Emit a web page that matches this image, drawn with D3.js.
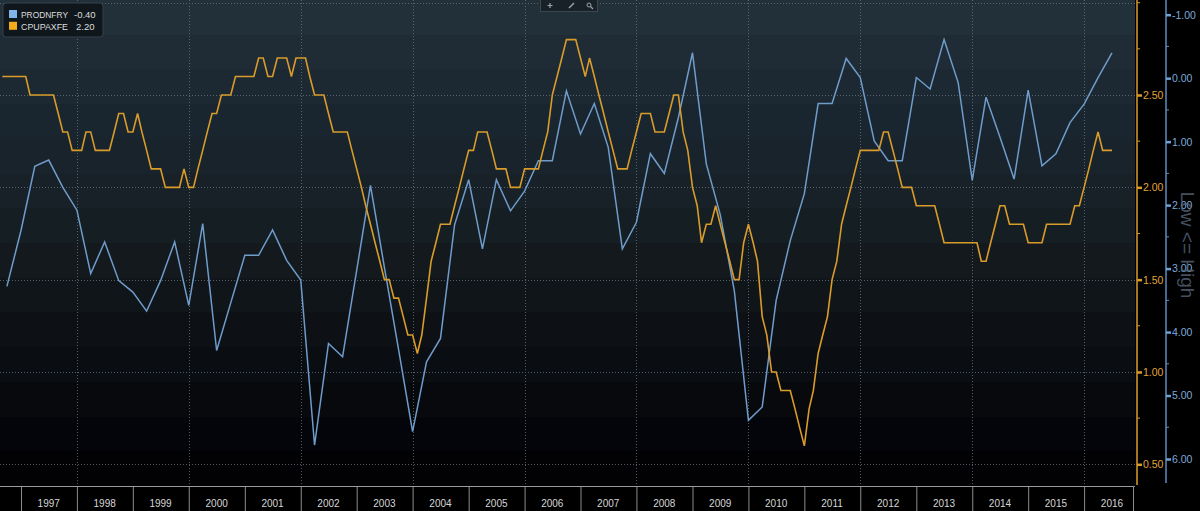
<html>
<head>
<title>PRODNFRY vs CPUPAXFE</title>
<script src="https://cdn.jsdelivr.net/npm/d3@7"></script>
<style>
  body { margin: 0; background: #000; }
  text { font-family: "Liberation Sans", Arial, sans-serif; }
</style>
</head>
<body>
<script>
// chart size
const w = 1200, h = 511;
const plotRight = 1135, plotBottom = 486;

// PRODNFRY, quarterly, first point Q4 1996 (plotted on the inverted right axis)
const prodStart = new Date(1996, 9, 1);
const prodValues = [
  3.28,
  2.40, 1.39, 1.29, 1.72,   // 1997
  2.08, 3.08, 2.58, 3.19,   // 1998
  3.37, 3.67, 3.19, 2.58,   // 1999
  3.58, 2.29, 4.29, 3.54,   // 2000
  2.79, 2.79, 2.39, 2.87,   // 2001
  3.18, 5.78, 4.18, 4.39,   // 2002
  3.03, 1.69, 2.98, 4.27,   // 2003
  5.57, 4.47, 4.10, 2.31,   // 2004
  1.60, 2.69, 1.60, 2.09,   // 2005
  1.78, 1.30, 1.30, 0.20,   // 2006
  0.88, 0.40, 1.09, 2.69,   // 2007
  2.27, 1.19, 1.50, 0.62,   // 2008
  -0.40, 1.35, 2.15, 3.35,  // 2009
  5.39, 5.18, 3.50, 2.56,   // 2010
  1.82, 0.40, 0.40, -0.31,  // 2011
  -0.01, 0.99, 1.30, 1.30,  // 2012
  -0.01, 0.17, -0.61, 0.07, // 2013
  1.61, 0.30, 0.93, 1.59,   // 2014
  0.19, 1.38, 1.19, 0.70,   // 2015
  0.41, -0.01, -0.40        // 2016
];

// CPUPAXFE, monthly, first point Sep 1996
const cpiStart = new Date(1996, 8, 1);
const cpiValues = [
  2.6, 2.6, 2.6, 2.6,
  2.6, 2.6, 2.5, 2.5, 2.5, 2.5, 2.5, 2.5, 2.4, 2.3, 2.3, 2.2, // 1997
  2.2, 2.2, 2.3, 2.3, 2.2, 2.2, 2.2, 2.2, 2.3, 2.4, 2.4, 2.3, // 1998
  2.3, 2.4, 2.3, 2.2, 2.1, 2.1, 2.1, 2.0, 2.0, 2.0, 2.0, 2.1, // 1999
  2.0, 2.0, 2.1, 2.2, 2.3, 2.4, 2.4, 2.5, 2.5, 2.5, 2.6, 2.6, // 2000
  2.6, 2.6, 2.6, 2.7, 2.7, 2.6, 2.6, 2.7, 2.7, 2.7, 2.6, 2.7, // 2001
  2.7, 2.7, 2.6, 2.5, 2.5, 2.5, 2.4, 2.3, 2.3, 2.3, 2.3, 2.2, // 2002
  2.1, 2.0, 1.9, 1.8, 1.7, 1.6, 1.5, 1.5, 1.4, 1.4, 1.3, 1.2, // 2003
  1.2, 1.1, 1.2, 1.4, 1.6, 1.7, 1.8, 1.8, 1.8, 1.9, 2.0, 2.1, // 2004
  2.2, 2.2, 2.3, 2.3, 2.3, 2.2, 2.1, 2.1, 2.1, 2.0, 2.0, 2.0, // 2005
  2.1, 2.1, 2.1, 2.1, 2.2, 2.3, 2.5, 2.6, 2.7, 2.8, 2.8, 2.8, // 2006
  2.7, 2.6, 2.7, 2.6, 2.5, 2.4, 2.3, 2.2, 2.1, 2.1, 2.1, 2.2, // 2007
  2.3, 2.4, 2.4, 2.4, 2.3, 2.3, 2.3, 2.4, 2.5, 2.5, 2.3, 2.2, // 2008
  2.0, 1.9, 1.7, 1.8, 1.8, 1.9, 1.8, 1.7, 1.6, 1.5, 1.5, 1.7, // 2009
  1.8, 1.7, 1.6, 1.3, 1.2, 1.0, 1.0, 0.9, 0.9, 0.9, 0.8, 0.7, // 2010
  0.6, 0.8, 0.9, 1.1, 1.2, 1.3, 1.5, 1.6, 1.8, 1.9, 2.0, 2.1, // 2011
  2.2, 2.2, 2.2, 2.2, 2.2, 2.3, 2.3, 2.2, 2.1, 2.0, 2.0, 2.0, // 2012
  1.9, 1.9, 1.9, 1.9, 1.9, 1.8, 1.7, 1.7, 1.7, 1.7, 1.7, 1.7, // 2013
  1.7, 1.7, 1.6, 1.6, 1.7, 1.8, 1.9, 1.9, 1.8, 1.8, 1.8, 1.8, // 2014
  1.7, 1.7, 1.7, 1.7, 1.8, 1.8, 1.8, 1.8, 1.8, 1.8, 1.9, 1.9, // 2015
  2.0, 2.1, 2.2, 2.3, 2.2, 2.2, 2.2                           // 2016
];

// tick labels
const years = [1997, 1998, 1999, 2000, 2001, 2002, 2003, 2004, 2005, 2006,
               2007, 2008, 2009, 2010, 2011, 2012, 2013, 2014, 2015, 2016];
const cpiTicks = [0.5, 1.0, 1.5, 2.0, 2.5];
const cpiMinor = [0.75, 1.25, 1.75, 2.25, 2.75, 3.0];
const prodTicks = [-1, 0, 1, 2, 3, 4, 5, 6];
const prodMinor = [-0.5, 0.5, 1.5, 2.5, 3.5, 4.5, 5.5];
const seriesNames = ["PRODNFRY", "CPUPAXFE"];

const blue = "#6f9ccb", orange = "#d99c2b";

const prod = prodValues.map(function(v, i) {
  return { date: d3.timeMonth.offset(prodStart, i * 3), value: v };
});
const cpi = cpiValues.map(function(v, i) {
  return { date: d3.timeMonth.offset(cpiStart, i), value: v };
});

// scales
const xScale = d3.scaleTime()
  .domain([new Date(1997, 0, 1), new Date(2016, 0, 1)])
  .range([21, 1084.1]);
const yCpi = d3.scaleLinear().domain([0.5, 2.5]).range([464.3, 95]);
const yProd = d3.scaleLinear().domain([-1, 6]).range([14.7, 459]);

const svg = d3.select("body").append("svg")
  .attr("width", w)
  .attr("height", h);

svg.append("rect").attr("width", w).attr("height", h).attr("fill", "#000");

// banded background
const bands = ["#22303a", "#1f2c36", "#1c2832", "#1a262f", "#18232b", "#172127",
               "#151e22", "#13191d", "#101519", "#0d1115", "#0a0d11", "#07090d",
               "#04050a", "#020205"];
const defs = svg.append("defs");
const grad = defs.append("linearGradient")
  .attr("id", "bg").attr("x1", 0).attr("y1", 0).attr("x2", 0).attr("y2", 1);
bands.forEach(function(c, i) {
  grad.append("stop").attr("offset", i / bands.length).attr("stop-color", c);
  grad.append("stop").attr("offset", (i + 1) / bands.length).attr("stop-color", c);
});
defs.append("clipPath").attr("id", "plotclip")
  .append("rect").attr("width", plotRight).attr("height", plotBottom);

svg.append("rect")
  .attr("width", plotRight).attr("height", plotBottom)
  .attr("fill", "url(#bg)");

// grid
const grid = svg.append("g").attr("stroke", "#6c7883").attr("stroke-width", 1)
  .attr("stroke-dasharray", "1,2").attr("opacity", 0.75);
grid.selectAll(".hg").data(cpiTicks.concat([3.0])).enter().append("line")
  .attr("x1", 0).attr("x2", plotRight)
  .attr("y1", function(d) { return Math.round(yCpi(d)) + 0.5; })
  .attr("y2", function(d) { return Math.round(yCpi(d)) + 0.5; });
grid.selectAll(".vg").data(years.filter(function(y) { return y % 2 === 0; })).enter().append("line")
  .attr("y1", 0).attr("y2", plotBottom)
  .attr("x1", function(d) { return Math.round(xScale(new Date(d, 0, 1))) + 0.5; })
  .attr("x2", function(d) { return Math.round(xScale(new Date(d, 0, 1))) + 0.5; });

// lines
const plot = svg.append("g").attr("clip-path", "url(#plotclip)");

const cpiLine = d3.line()
  .x(function(d) { return xScale(d.date); })
  .y(function(d) { return yCpi(d.value); });
const prodLine = d3.line()
  .x(function(d) { return xScale(d.date); })
  .y(function(d) { return yProd(d.value); });

plot.append("path").datum(prod)
  .attr("fill", "none").attr("stroke", blue).attr("stroke-width", 1.5)
  .attr("d", prodLine);
plot.append("path").datum(cpi)
  .attr("fill", "none").attr("stroke", orange).attr("stroke-width", 1.6)
  .attr("d", cpiLine);

// orange axis
const cpiAxisX = 1137;
svg.append("line").attr("x1", cpiAxisX).attr("x2", cpiAxisX)
  .attr("y1", 0).attr("y2", 485).attr("stroke", orange).attr("stroke-width", 1.5);
const cpiAxis = svg.append("g").attr("transform", "translate(" + cpiAxisX + ",0)")
  .call(d3.axisRight(yCpi).tickValues(cpiTicks).tickSize(5).tickSizeOuter(0)
    .tickFormat(function(d) { return d.toFixed(2); }));
cpiAxis.select(".domain").remove();
cpiAxis.selectAll("line").attr("stroke", orange).attr("stroke-width", 2.5);
cpiAxis.selectAll("text").attr("fill", "#e0a33a").attr("font-size", "10.5px")
  .attr("x", 6).attr("font-family", "Liberation Sans, Arial, sans-serif");
svg.append("g").selectAll("line").data(cpiMinor).enter().append("line")
  .attr("x1", cpiAxisX).attr("x2", cpiAxisX + 3)
  .attr("y1", function(d) { return yCpi(d); }).attr("y2", function(d) { return yCpi(d); })
  .attr("stroke", orange).attr("stroke-width", 1);

// blue axis
const prodAxisX = 1166;
svg.append("line").attr("x1", prodAxisX).attr("x2", prodAxisX)
  .attr("y1", 0).attr("y2", 483).attr("stroke", "#5d8dc0").attr("stroke-width", 1.5);
const prodAxis = svg.append("g").attr("transform", "translate(" + prodAxisX + ",0)")
  .call(d3.axisRight(yProd).tickValues(prodTicks).tickSize(5).tickSizeOuter(0)
    .tickFormat(function(d) { return d.toFixed(2); }));
prodAxis.select(".domain").remove();
prodAxis.selectAll("line").attr("stroke", "#6f9fd3").attr("stroke-width", 2.5);
prodAxis.selectAll("text").attr("fill", "#7ea9d8").attr("font-size", "10.5px")
  .attr("x", 6).attr("font-family", "Liberation Sans, Arial, sans-serif");
svg.append("g").selectAll("line").data(prodMinor).enter().append("line")
  .attr("x1", prodAxisX).attr("x2", prodAxisX + 3)
  .attr("y1", function(d) { return yProd(d); }).attr("y2", function(d) { return yProd(d); })
  .attr("stroke", "#5d8dc0").attr("stroke-width", 1);

// inverted axis note
svg.append("text")
  .attr("transform", "translate(1181,245) rotate(90)")
  .attr("text-anchor", "middle")
  .attr("font-size", "19px")
  .attr("fill", "#55667a")
  .attr("opacity", 0.8)
  .text("Low <= High");

// bottom time axis
const xAxis = svg.append("g").attr("transform", "translate(0," + plotBottom + ")")
  .call(d3.axisBottom(xScale)
    .tickValues(years.map(function(y) { return new Date(y, 0, 1); }))
    .tickSize(25).tickSizeOuter(0).tickFormat(""));
xAxis.select(".domain").remove();
xAxis.selectAll("line").attr("stroke", "#8c8c8c");
svg.append("line").attr("x1", 0).attr("x2", plotRight)
  .attr("y1", plotBottom + 0.5).attr("y2", plotBottom + 0.5)
  .attr("stroke", "#9a9a9a");
svg.append("line").attr("x1", plotRight - 1.5).attr("x2", plotRight - 1.5)
  .attr("y1", plotBottom).attr("y2", h).attr("stroke", "#8c8c8c");
svg.append("g").selectAll("text").data(years).enter().append("text")
  .attr("x", function(d) { return xScale(new Date(d, 6, 1)); })
  .attr("y", 507)
  .attr("text-anchor", "middle")
  .attr("font-size", "10px")
  .attr("fill", "#d6d6d6")
  .text(function(d) { return d; });

// legend
const legend = svg.append("g").attr("transform", "translate(3,3)");
legend.append("rect").attr("width", 100).attr("height", 34).attr("rx", 3)
  .attr("fill", "#0e151a").attr("fill-opacity", 0.9)
  .attr("stroke", "#34404a");
const legendItems = [
  { name: seriesNames[0], color: "#7fb3ea", value: prodValues[prodValues.length - 1] },
  { name: seriesNames[1], color: "#f0aa1c", value: cpiValues[cpiValues.length - 1] }
];
const li = legend.selectAll(".li").data(legendItems).enter().append("g")
  .attr("transform", function(d, i) { return "translate(6," + (7 + i * 11.8) + ")"; });
li.append("rect").attr("width", 8).attr("height", 8).attr("fill", function(d) { return d.color; });
li.append("text").attr("x", 12).attr("y", 8).attr("font-size", "9.5px").attr("fill", "#dcdcdc")
  .attr("textLength", 47).attr("lengthAdjust", "spacingAndGlyphs")
  .text(function(d) { return d.name; });
li.append("text").attr("x", function(d, i) { return i === 0 ? 65 : 67; }).attr("y", 8)
  .attr("font-size", "9.5px").attr("fill", "#dcdcdc")
  .text(function(d) { return d.value.toFixed(2); });

// toolbar
const tb = svg.append("g").attr("transform", "translate(540,0)");
tb.append("rect").attr("x", 0.5).attr("y", -1).attr("width", 57).attr("height", 12.5)
  .attr("fill", "#182127").attr("stroke", "#3c4750");
tb.append("path").attr("d", "M10,3 L10,8 M7.5,5.5 L12.5,5.5")
  .attr("stroke", "#9aa3aa").attr("stroke-width", 1.2);
tb.append("path").attr("d", "M29,8 L34,3")
  .attr("stroke", "#9aa3aa").attr("stroke-width", 1.4);
tb.append("circle").attr("cx", 49).attr("cy", 5).attr("r", 2)
  .attr("fill", "none").attr("stroke", "#9aa3aa");
tb.append("path").attr("d", "M50.5,6.5 L53,9")
  .attr("stroke", "#9aa3aa").attr("stroke-width", 1.2);
</script>
</body>
</html>
